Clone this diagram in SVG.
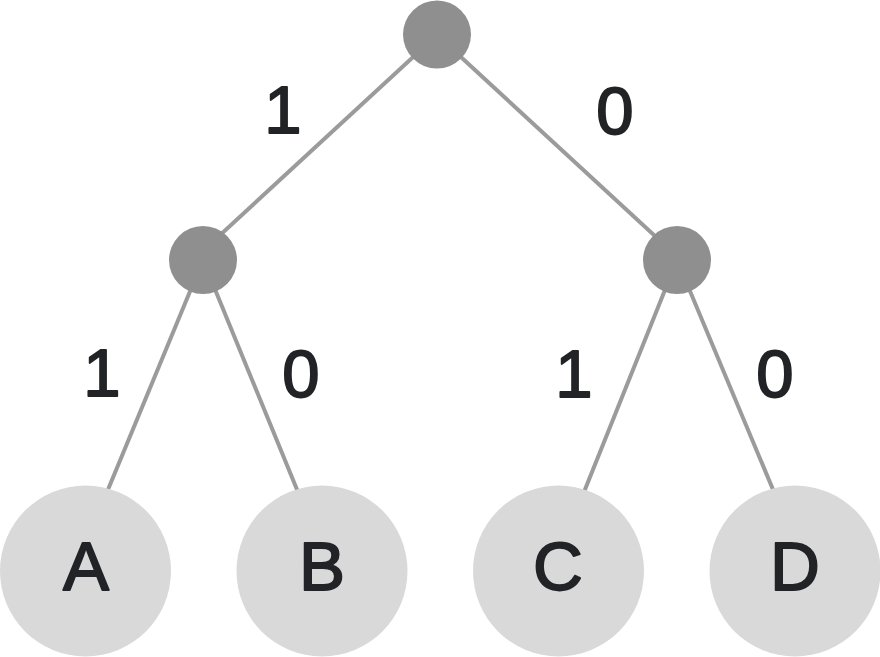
<svg xmlns="http://www.w3.org/2000/svg" width="880" height="657" viewBox="0 0 880 657">
<style>
.edge{stroke:#9b9b9b;stroke-width:4;fill:none;stroke-linecap:butt}
.inner{fill:#8f8f8f}
.leaf{fill:#d9d9d9}
.lbl{font-family:"Liberation Sans",Arial,sans-serif;font-size:67px;fill:#222326;stroke:#222326;stroke-width:1.8;stroke-linejoin:round;text-anchor:middle}
.ltr{font-family:"Liberation Sans",Arial,sans-serif;font-size:69px;fill:#222326;stroke:#222326;stroke-width:1.8;stroke-linejoin:round;text-anchor:middle}
</style>
<rect width="880" height="657" fill="#ffffff"/>
<g id="connectors">
<line class="edge" x1="437" y1="35" x2="193" y2="260"/>
<line class="edge" x1="437" y1="35" x2="681" y2="260"/>
<line class="edge" x1="203" y1="260" x2="107" y2="492"/>
<line class="edge" x1="203" y1="260" x2="298" y2="492"/>
<line class="edge" x1="677" y1="260" x2="584" y2="492"/>
<line class="edge" x1="677" y1="260" x2="774" y2="492"/>
<text class="lbl" x="283" y="133">1</text>
<text class="lbl" x="615" y="134">0</text>
<text class="lbl" x="102" y="396">1</text>
<text class="lbl" x="301" y="397">0</text>
<text class="lbl" x="574" y="397">1</text>
<text class="lbl" x="775" y="397">0</text>
</g>
<g id="root"><circle class="inner" cx="437" cy="34.5" r="34"/></g>
<g id="n1"><circle class="inner" cx="203" cy="260" r="34"/></g>
<g id="n0"><circle class="inner" cx="677" cy="260" r="34"/></g>
<g id="A"><circle class="leaf" cx="85.5" cy="571" r="85.5"/><text class="ltr" x="86" y="590">A</text></g>
<g id="B"><circle class="leaf" cx="322" cy="571" r="85.5"/><text class="ltr" x="322" y="590">B</text></g>
<g id="C"><circle class="leaf" cx="558.5" cy="571" r="85.5"/><text class="ltr" x="558" y="590">C</text></g>
<g id="D"><circle class="leaf" cx="795" cy="571" r="85.5"/><text class="ltr" x="795" y="590">D</text></g>
</svg>
